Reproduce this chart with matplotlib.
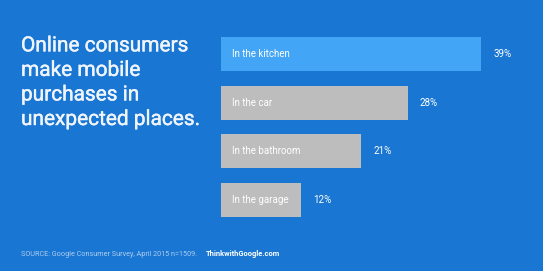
import matplotlib
matplotlib.use("Agg")
import matplotlib.pyplot as plt
import matplotlib.patheffects as pe

places = ["In the kitchen", "In the car", "In the bathroom", "In the garage"]
shares = [39, 28, 21, 12]
pct_labels = ["39%", "28%", "21%", "12%"]
bar_colors = ["#42A5F5", "#BDBDBD", "#BDBDBD", "#BDBDBD"]

bg = "#1976D2"
W, H = 543, 271

fig = plt.figure(figsize=(W / 100, H / 100), dpi=100, facecolor=bg)

# bars area: left at x=221px, top 30px, bottom 225px
ax = fig.add_axes([221 / W, 1 - 225 / H, (W - 221) / W, 195 / H])
ax.set_facecolor(bg)
px_per_pct = 6.67
ax.set_xlim(0, (W - 221) / px_per_pct)
step = 48.67
ax.set_ylim(3 + (225 - 200) / step, -(54 - 30) / step)
ax.axis("off")

ax.barh(range(len(places)), shares, height=0.70, color=bar_colors, linewidth=0)
for i, (name, v, lab) in enumerate(zip(places, shares, pct_labels)):
    ax.text(11 / px_per_pct, i, name, color="white", fontsize=7, family="Roboto",
            va="center", ha="left")
    ax.text(v + 12 / px_per_pct, i, lab, color="white", fontsize=7, family="Roboto",
            va="center", ha="left")

# multiline baseline refers to the last line
title = "Online consumers\nmake mobile\npurchases in\nunexpected places."
fig.text(21 / W, 1 - 125 / H, title, color="#F0F5FC", fontsize=15, family="Roboto",
         va="baseline", ha="left", linespacing=1.37, multialignment="left",
         path_effects=[pe.withStroke(linewidth=0.3, foreground="#F0F5FC")])

fig.text(21 / W, 1 - 256 / H, "SOURCE: Google Consumer Survey, April 2015 n=1509.",
         color="#AFCDF0", fontsize=5.2, family="Roboto", va="baseline")
fig.text(206 / W, 1 - 256 / H, "ThinkwithGoogle.com", color="white", fontsize=5.4,
         family="Roboto", weight="bold", va="baseline")

fig.savefig("out.png", dpi=100, facecolor=bg)
